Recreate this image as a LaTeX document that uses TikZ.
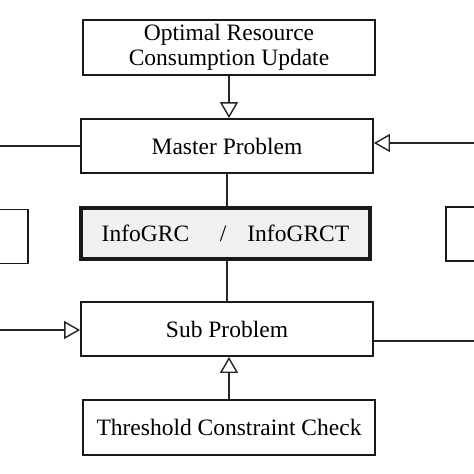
\documentclass[tikz,border=0pt]{standalone}
\usepackage{fontspec}
\setmainfont{Liberation Serif}
\usetikzlibrary{arrows.meta}
\begin{document}
\begin{tikzpicture}[x=1pt,y=-1pt,
  box/.style={draw=black!90,line width=1.8pt,minimum width=292pt,minimum height=54pt,inner sep=0pt,align=center,font=\fontsize{23.5}{25}\selectfont,fill=white},
  thickbox/.style={box,line width=3.6pt,fill=gray!12,minimum width=289pt,minimum height=51pt},
  conn/.style={draw=black!85,line width=1.6pt},
  oarrow/.style={conn,-{Triangle[open,length=16pt,width=18pt,line width=1.4pt]}}]
\useasboundingbox (0,0) rectangle (474,474);
\clip (0,0) rectangle (474,474);
\fill[white] (0,0) rectangle (474,474);
\node[box,minimum height=55pt] (top) at (229,47.5) {Optimal Resource\\Consumption Update};
\node[box] (master) at (227,146) {Master Problem};
\node[thickbox] (info) at (225.5,233.5) {InfoGRC\hspace{1.3em}/\hspace{0.9em}InfoGRCT};
\node[box] (sub) at (227,329) {Sub Problem};
\node[box,minimum height=55pt] (thr) at (229,427.5) {Threshold Constraint Check};
\node[box,minimum width=116pt] (lbox) at (-30,236.5) {};
\node[box,minimum width=116pt] (rbox) at (504,234) {};
\coordinate (lin) at (0,146);
\coordinate (rin) at (474,143);
\coordinate (lsub) at (0,330);
\coordinate (rsub) at (474,341);
\draw[oarrow] (top.south) -- (top.south |- master.north);
\draw[conn] (master.south) -- (info.north -| master.south);
\draw[conn] (info.south -| sub.north) -- (sub.north);
\draw[oarrow] (thr.north) -- (thr.north |- sub.south);
\draw[conn] (lin) -- (master.west);
\draw[oarrow] (rin) -- (rin -| master.east);
\draw[oarrow] (lsub) -- (lsub -| sub.west);
\draw[conn] (rsub -| sub.east) -- (rsub);
\end{tikzpicture}
\end{document}
